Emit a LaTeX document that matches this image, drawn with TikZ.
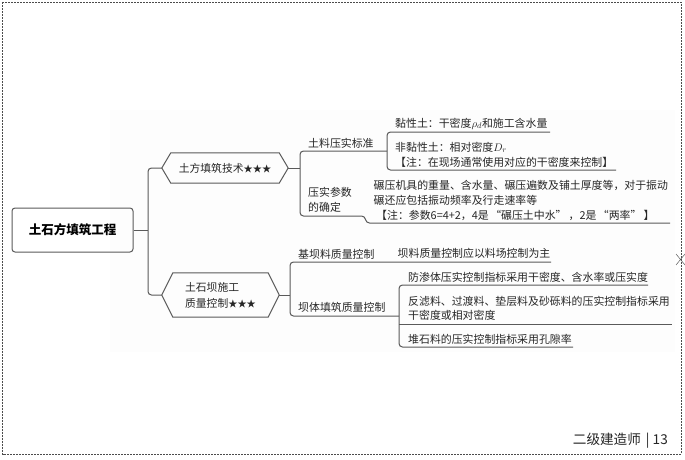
\documentclass[tikz,border=0pt]{standalone}
\usepackage{fontspec}
\setmainfont{Noto Sans CJK SC}
\usetikzlibrary{calc}
\definecolor{ln}{HTML}{5A5A5A}
\definecolor{tx}{HTML}{262626}
\newcommand{\stars}{{\fontsize{9.2}{10}\selectfont ★★★}}
\tikzset{
  conn/.style={draw=ln,line width=1pt,rounded corners=3.5pt},
  rootbox/.style={draw=ln,line width=1pt,rounded corners=3pt,minimum width=121pt,minimum height=44pt,inner sep=0pt,text=black,font=\fontsize{12.5}{14}\selectfont\bfseries},
  hexbox/.style={inner sep=0pt,text=tx,font=\fontsize{10.8}{16}\selectfont},
  hexline/.style={draw=ln,line width=1pt,line join=round},
  lab/.style={anchor=west,inner sep=0pt,text=tx,font=\fontsize{10.9}{15}\selectfont,align=left},
  frameline/.style={draw=ln!85!black,line width=0.9pt,dash pattern=on 2pt off 1pt},
}
\begin{document}
\begin{tikzpicture}[x=1pt,y=-1pt]
\useasboundingbox (0,0) rectangle (685,460);
\fill[white] (0,0) rectangle (685,460);
\fill[black!0.8] (110,110) rectangle (675,352);
\draw[frameline] (2.5,2.5) rectangle (681,454);
% nodes
\node[rootbox] (root) at (72.5,230) {土石方填筑工程};
\node[hexbox,minimum width=126pt,minimum height=30pt] (h1) at (225,168) {土方填筑技术\stars};
\node[hexbox,minimum width=117pt,minimum height=44pt,align=left] (h2) at (220.5,295) {\hspace*{0pt}土石坝施工\\质量控制\stars};
\draw[hexline] (h1.west) -- ($(h1.north west)+(9,0)$) -- ($(h1.north east)+(-9,0)$) -- (h1.east) -- ($(h1.south east)+(-9,0)$) -- ($(h1.south west)+(9,0)$) -- cycle;
\draw[hexline] (h2.west) -- ($(h2.north west)+(11,0)$) -- ($(h2.north east)+(-11,0)$) -- (h2.east) -- ($(h2.south east)+(-11,0)$) -- ($(h2.south west)+(11,0)$) -- cycle;
% connection points
\coordinate (j0) at (148,230);
\coordinate (a1) at (300,168);
\coordinate (a2) at (290,295);
\coordinate (b1) at (387,151);
\coordinate (b2) at (399,316);
% main trunk
\draw[conn] (root.east) -- (j0);
\draw[conn] (h1.west) -- (148,168) -- (148,295) -- (h2.west);
% upper
\draw[conn] (h1.east) -- (a1);
\draw[conn] (b1) -- (300,151) -- (300,216) -- (365,216) -- (366,223) -- (670,223);
\draw[conn] (550,132) -- (387,132) -- (387,170) -- (616,170);
% lower
\draw[conn] (h2.east) -- (a2);
\draw[conn] (551,262) -- (290,262) -- (290,316) -- (b2);
\draw[conn] (648,285) -- (399,285) -- (399,347) -- (573,347);
\draw[conn] (399,324) -- (672,324);
% labels
\node[lab] (t1) at (308,143) {土料压实标准};
\node[lab] (t2) at (308,199.5) {压实参数\\的确定};
\node[lab] (t3) at (395,123.5) {黏性土：干密度$\rho_d$和施工含水量};
\node[lab] (t4) at (395,147.5) {非黏性土：相对密度$D_r$};
\node[lab] (t5) at (395,162.5) {【注：在现场通常使用对应的干密度来控制】};
\node[lab] (t6) at (373.5,185.5) {碾压机具的重量、含水量、碾压遍数及铺土厚度等，对于振动};
\node[lab] (t7) at (373.5,200.5) {碾还应包括振动频率及行走速率等};
\node[lab] (t8) at (376,215) {【注：参数6=4+2，4是\hspace{1.5pt}“碾压土中水”\hspace{2pt}，2是\hspace{1.5pt}“两率”\hspace{2pt}】};
\node[lab] (t9) at (298,254) {基坝料质量控制};
\node[lab] (t10) at (298,307.5) {坝体填筑质量控制};
\node[lab] (t11) at (397.5,253.5) {坝料质量控制应以料场控制为主};
\node[lab] (t12) at (408,277.5) {防渗体压实控制指标采用干密度、含水率或压实度};
\node[lab] (t13) at (408,301) {反滤料、过渡料、垫层料及砂砾料的压实控制指标采用};
\node[lab] (t14) at (408,315.5) {干密度或相对密度};
\node[lab] (t15) at (408,339) {堆石料的压实控制指标采用孔隙率};
\node[anchor=east,inner sep=0pt,text=tx,font=\fontsize{13.6}{15}\selectfont] (pg) at (668,441) {二级建造师\hspace{2pt} | 13};
% cut mark
\draw[ln,line width=0.5pt] (676,254) -- (685,265) (685,254) -- (676,265);
\end{tikzpicture}
\end{document}
